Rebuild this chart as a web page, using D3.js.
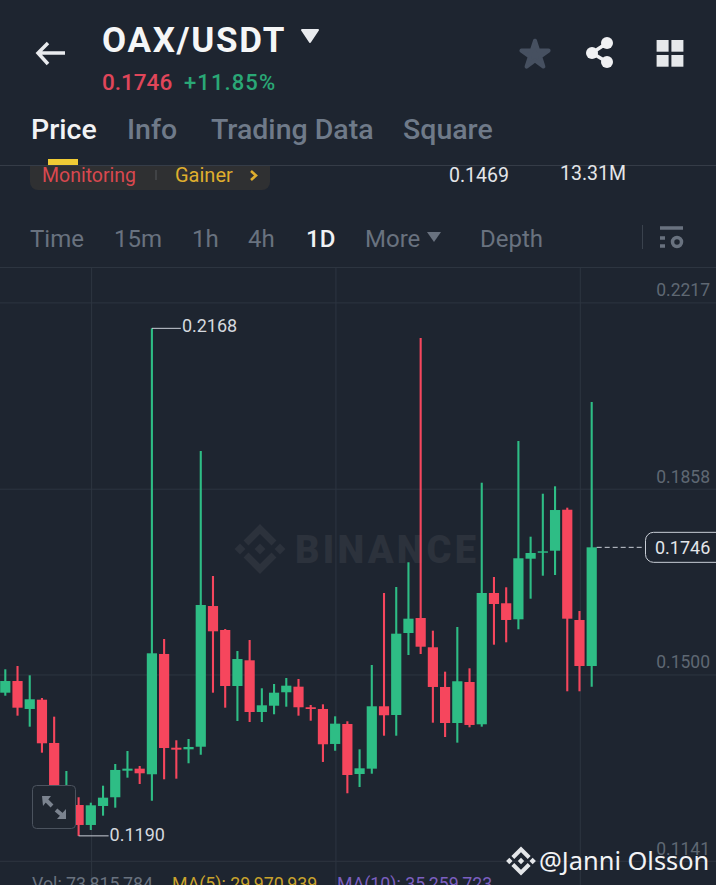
<!DOCTYPE html>
<html>
<head>
<meta charset="utf-8">
<script src="https://cdn.jsdelivr.net/npm/d3@7"></script>
<style>
html, body { margin: 0; padding: 0; background: #1e2530; overflow: hidden; }
text { font-family: Roboto, sans-serif; }
</style>
</head>
<body>
<script>
// candle values
var highs = [.15110,.15173,.14994,.14557,.14197,.13150,.12644,.12539,.12867,.13285,.13536,.13247,.2168,.15694,.13742,.13767,.19316,.16908,.15886,.15462,.15674,.14744,.14827,.14942,.14923,.14422,.14435,.14204,.14108,.13568,.15193,.16580,.16696,.17172,.21493,.15854,.15064,.15925,.15129,.18705,.16888,.16690,.19509,.17665,.18493,.18636,.18224,.16233,.20260];
var opens = [.14659,.14884,.14345,.14524,.13690,.12476,.12495,.12110,.12476,.12644,.13156,.13195,.13087,.15405,.13599,.13568,.13618,.16329,.15867,.14788,.15283,.14287,.14408,.14667,.14775,.14378,.14345,.13671,.14056,.13092,.13195,.14397,.14229,.15809,.16098,.15534,.14769,.14075,.14865,.14050,.16580,.16382,.16073,.17241,.17356,.17395,.18185,.16060,.15173];
var closes = [.14884,.14370,.14532,.13684,.12842,.12861,.12110,.12489,.12636,.13170,.13195,.13106,.15418,.13593,.13561,.13613,.16349,.15842,.14788,.15308,.14287,.14416,.14659,.14794,.14378,.14345,.13665,.14062,.13073,.13202,.14397,.14224,.15796,.16085,.15545,.14769,.14075,.14879,.14037,.16580,.16368,.16060,.17249,.17351,.17383,.18179,.16085,.15173,.1746];
var lows = [.14601,.14216,.14004,.13503,.12688,.12360,.1190,.12013,.12289,.12443,.13021,.12900,.12578,.12990,.13002,.13299,.13464,.14659,.14370,.14114,.14094,.14094,.14243,.14389,.14216,.14119,.13324,.13541,.12721,.12842,.13098,.13830,.13830,.15385,.15405,.14081,.13805,.13696,.13992,.14004,.15584,.15630,.15881,.16470,.16913,.16927,.14686,.14686,.14775];

var priceTicks = [0.2217, 0.1858, 0.1500, 0.1141];
var lastPrice = 0.1746;
var timeTabs = ["Time", "15m", "1h", "4h", "1D", "More", "Depth"];
var timeTabX = [30, 114, 192, 248, 306, 365, 480];
var topTabs = ["Price", "Info", "Trading Data", "Square"];
var topTabX = [31, 127, 211, 403];
var gridDays = [7, 27, 47];

var width = 716, height = 885;
var green = "#2ebd85", red = "#f6465d";

var svg = d3.select("body").append("svg")
  .attr("width", width)
  .attr("height", height)
  .style("display", "block");

var x = d3.scaleLinear().domain([0, 48]).range([5.3, 591.7]);
var y = d3.scaleLinear().domain([0.1141, 0.2217]).range([861.3, 302.9]);
var bodyW = 10.2;

function label(txt, px, py, size, color, weight, anchor) {
  return svg.append("text").text(txt)
    .attr("x", px).attr("y", py)
    .attr("font-size", size)
    .attr("fill", color)
    .attr("font-weight", weight || 400)
    .attr("text-anchor", anchor || "start");
}

// binance logo, k is the half height
function logo(cx, cy, k, color) {
  var l = svg.append("g")
    .attr("transform", "translate(" + cx + "," + cy + ") scale(" + k / 24 + ")");
  l.selectAll("path.chev").data([1, -1]).enter().append("path")
    .attr("class", "chev")
    .attr("fill", "none").attr("stroke", color).attr("stroke-width", 7)
    .attr("d", function(s){ return "M-14," + (-s * 6) + "L0," + (-s * 20) + "L14," + (-s * 6); });
  l.selectAll("path.dot").data([-20, 0, 20]).enter().append("path")
    .attr("class", "dot")
    .attr("fill", color)
    .attr("d", d3.symbol(d3.symbolSquare, 60))
    .attr("transform", function(d){ return "translate(" + d + ",0) rotate(45)"; });
}

// grid
svg.selectAll("line.h").data(priceTicks).enter().append("line")
  .attr("class", "h")
  .attr("x1", 0).attr("x2", width)
  .attr("y1", function(d){ return y(d); }).attr("y2", function(d){ return y(d); })
  .attr("stroke", "#2d3540");
svg.selectAll("line.v").data(gridDays).enter().append("line")
  .attr("class", "v")
  .attr("x1", function(d){ return x(d) + 0.8; }).attr("x2", function(d){ return x(d) + 0.8; })
  .attr("y1", 268).attr("y2", height)
  .attr("stroke", "#2d3540");

// watermark
label("BINANCE", 295, 563, 38, "#2c323c", 900).attr("letter-spacing", 3.2);
logo(260, 549, 24, "#2c323c");

// candles
var candles = d3.range(highs.length);
var g = svg.selectAll("g.candle").data(candles).enter().append("g").attr("class", "candle")
  .attr("fill", function(i){ return closes[i] >= opens[i] ? green : red; })
  .attr("stroke", function(i){ return closes[i] >= opens[i] ? green : red; });
g.append("line")
  .attr("x1", function(i){ return x(i); }).attr("x2", function(i){ return x(i); })
  .attr("y1", function(i){ return y(highs[i]); }).attr("y2", function(i){ return y(lows[i]); })
  .attr("stroke-width", 2.1);
g.append("rect")
  .attr("stroke", "none")
  .attr("x", function(i){ return x(i) - bodyW / 2; })
  .attr("width", bodyW)
  .attr("y", function(i){ return y(Math.max(opens[i], closes[i])); })
  .attr("height", function(i){ return Math.max(1.2, Math.abs(y(opens[i]) - y(closes[i]))); });

// axis labels
svg.selectAll("text.tick").data(priceTicks).enter().append("text")
  .attr("class", "tick")
  .attr("x", 710).attr("text-anchor", "end")
  .attr("y", function(d){ return y(d) - 6.5; })
  .attr("font-size", 17.5).attr("fill", "#5f6873")
  .text(function(d){ return d.toFixed(4); });

// high / low markers
var hi = d3.max(highs), lo = d3.min(lows);
var hiX = x(highs.indexOf(hi)), loX = x(lows.indexOf(lo));
svg.append("path").attr("fill", "none").attr("stroke", "#c9ced6")
  .attr("d", "M" + hiX + "," + y(hi) + "H" + (hiX + 29));
label(hi.toFixed(4), hiX + 30, y(hi) + 4, 18, "#d5d9df");
svg.append("path").attr("fill", "none").attr("stroke", "#c9ced6")
  .attr("d", "M" + loX + "," + y(lo) + "H" + (loX + 30));
label(lo.toFixed(4), loX + 31, y(lo) + 5, 18, "#d5d9df");

// last price
svg.append("line")
  .attr("x1", x(48) + 5).attr("x2", 642)
  .attr("y1", y(lastPrice)).attr("y2", y(lastPrice))
  .attr("stroke", "#c9ced6").attr("stroke-dasharray", "5 3");
svg.append("rect")
  .attr("x", 645.5).attr("y", y(lastPrice) - 15).attr("width", 80).attr("height", 30).attr("rx", 8)
  .attr("fill", "#1e2530").attr("stroke", "#c9ced6");
label(lastPrice.toFixed(4), 655, y(lastPrice) + 6.5, 18, "#e3e6ea");

// expand button
svg.append("rect").attr("x", 32.5).attr("y", 785.5).attr("width", 43).attr("height", 43).attr("rx", 4)
  .attr("fill", "#1f2630").attr("stroke", "#4b535e");
svg.append("path").attr("stroke", "#7b838f").attr("stroke-width", 4).attr("fill", "none")
  .attr("d", "M46,800L52,806M56,810L62,815");
svg.append("path").attr("fill", "#7b838f")
  .attr("d", "M42,796H51L43,806ZM66,819H57L66,809Z");

// header
svg.append("path").attr("fill", "none").attr("stroke", "#e9ebee").attr("stroke-width", 3.5)
  .attr("d", "M65,53H38M48,43L38,53L48,64");
label("OAX/USDT", 102, 52, 35, "#f5f6f7", 700).attr("letter-spacing", 1.7);
svg.append("path").attr("fill", "#e9ebee").attr("stroke", "#e9ebee").attr("stroke-linejoin", "round").attr("stroke-width", 2)
  .attr("d", "M302,30H318L310,42Z");
label("0.1746", 102, 90, 22.5, "#e0465a", 500);
label("+11.85%", 184, 90, 22, "#2aa876", 500).attr("letter-spacing", 1.1);
svg.append("path").attr("fill", "#465060").attr("stroke", "#465060")
  .attr("stroke-width", 4).attr("stroke-linejoin", "round")
  .attr("d", d3.symbol(d3.symbolStar, 230)).attr("transform", "translate(535,55)");
svg.append("path").attr("fill", "none").attr("stroke", "#f0f1f3").attr("stroke-width", 3.5)
  .attr("d", "M607,43L592,53L607,62");
svg.selectAll("circle.share").data([[607,43],[592,53],[607,62]]).enter().append("circle")
  .attr("class", "share").attr("cx", function(d){ return d[0]; }).attr("cy", function(d){ return d[1]; })
  .attr("r", 6).attr("fill", "#f0f1f3");
svg.selectAll("rect.grid").data([[656.6,40],[671.4,40],[656.6,55],[671.4,55]]).enter().append("rect")
  .attr("class", "grid").attr("x", function(d){ return d[0]; }).attr("y", function(d){ return d[1]; })
  .attr("width", 12).attr("height", 11.7).attr("fill", "#e6e8eb");

topTabs.forEach(function(t, i){
  label(t, topTabX[i], 139, 28.5, i == 0 ? "#f2f3f5" : "#6f7a89", 500);
});
svg.append("rect").attr("x", 48).attr("y", 159).attr("width", 30).attr("height", 6).attr("fill", "#f0cb35");
svg.append("line").attr("x1", 0).attr("x2", width).attr("y1", 165.5).attr("y2", 165.5).attr("stroke", "#353c47");

// sub header
svg.append("path").attr("fill", "#2f3032")
  .attr("d", "M30,166H270V182a8,8 0 0 1 -8,8H38a8,8 0 0 1 -8,-8Z");
label("Monitoring", 42, 182, 19.5, "#d9484f");
svg.append("line").attr("x1", 156).attr("x2", 156).attr("y1", 170).attr("y2", 180).attr("stroke", "#55565a");
label("Gainer", 175, 182, 20, "#dfae2e");
svg.append("path").attr("fill", "none").attr("stroke", "#dfae2e").attr("stroke-width", 2.6).attr("d", "M251,171L256,175.5L251,180");
label("0.1469", 449, 182, 19.5, "#e4e6e9");
label("13.31M", 560, 180, 19.5, "#e4e6e9");

// time tabs
timeTabs.forEach(function(t, i){
  label(t, timeTabX[i], 247, 24, t == "1D" ? "#f0f1f3" : "#69727f", t == "1D" ? 500 : 400);
});
svg.append("path").attr("fill", "#69727f").attr("d", "M427,232H441L434,242Z");
svg.append("line").attr("x1", 642.5).attr("x2", 642.5).attr("y1", 225).attr("y2", 249).attr("stroke", "#3a424d");
svg.append("path").attr("stroke", "#69727f").attr("stroke-width", 3.5).attr("fill", "none")
  .attr("d", "M660,228H683M660,238H665M660,246H665");
svg.append("circle").attr("cx", 677).attr("cy", 242).attr("r", 4.5).attr("fill", "none").attr("stroke", "#69727f").attr("stroke-width", 3.5);
svg.append("line").attr("x1", 0).attr("x2", width).attr("y1", 267.5).attr("y2", 267.5).attr("stroke", "#2d3540");

// volume legend
label("Vol: 73,815,784", 32, 890, 17.8, "#69727f");
label("MA(5): 29,970,939", 172, 890, 17.8, "#c9a32c");
label("MA(10): 35,259,723", 337, 890, 17.8, "#7b5fc0");

// credit
logo(521, 861, 14, "#e4e6e9");
label("@Janni Olsson", 539, 870, 25.4, "#f2f3f5", 400).style("font-family", "'Noto Sans'");
</script>
</body>
</html>
